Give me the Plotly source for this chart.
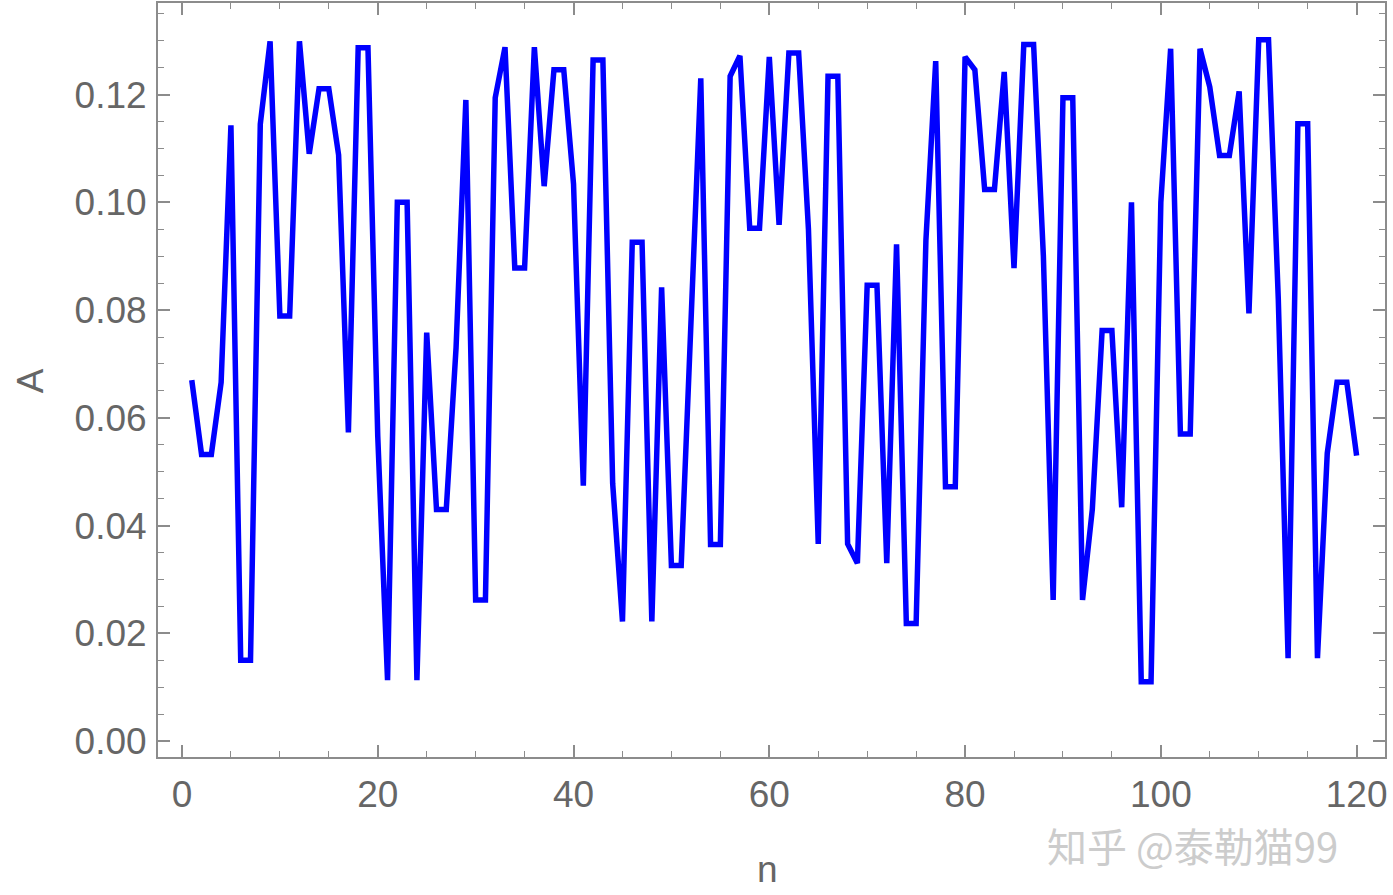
import plotly.graph_objects as go

n_values = list(range(1, 121))
A_values = [
    0.0670, 0.0532, 0.0532, 0.0666, 0.1143, 0.0150, 0.0150, 0.1145, 0.1299, 0.0789,
    0.0789, 0.1299, 0.1090, 0.1211, 0.1211, 0.1088, 0.0573, 0.1287, 0.1287, 0.0566,
    0.0113, 0.1000, 0.1000, 0.0113, 0.0758, 0.0430, 0.0430, 0.0730, 0.1190, 0.0262,
    0.0262, 0.1194, 0.1288, 0.0878, 0.0878, 0.1288, 0.1030, 0.1246, 0.1246, 0.1034,
    0.0474, 0.1264, 0.1264, 0.0478, 0.0222, 0.0926, 0.0926, 0.0222, 0.0842, 0.0326,
    0.0326, 0.0790, 0.1230, 0.0365, 0.0365, 0.1234, 0.1272, 0.0952, 0.0952, 0.1270,
    0.0958, 0.1277, 0.1277, 0.0950, 0.0366, 0.1234, 0.1234, 0.0366, 0.0330, 0.0846,
    0.0846, 0.0330, 0.0922, 0.0218, 0.0218, 0.0930, 0.1262, 0.0472, 0.0472, 0.1270,
    0.1246, 0.1024, 0.1024, 0.1242, 0.0878, 0.1293, 0.1293, 0.0900, 0.0262, 0.1194,
    0.1194, 0.0262, 0.0430, 0.0762, 0.0762, 0.0434, 0.1000, 0.0110, 0.0110, 0.1000,
    0.1285, 0.0570, 0.0570, 0.1285, 0.1214, 0.1087, 0.1087, 0.1206, 0.0794, 0.1302,
    0.1302, 0.0820, 0.0154, 0.1146, 0.1146, 0.0154, 0.0534, 0.0666, 0.0666, 0.0530,
]

x_tick_vals = [0, 20, 40, 60, 80, 100, 120]
y_tick_vals = [0.00, 0.02, 0.04, 0.06, 0.08, 0.10, 0.12]
y_tick_text = ["0.00", "0.02", "0.04", "0.06", "0.08", "0.10", "0.12"]

axis_color = "#8c8c8c"
label_color = "#666666"
font_family = "Liberation Sans, Arial, sans-serif"

fig = go.Figure()
fig.add_trace(go.Scatter(
    x=n_values, y=A_values, mode="lines",
    line=dict(color="#0000ff", width=5.5),
    showlegend=False, hoverinfo="x+y",
))

common_axis = dict(
    showline=True, linecolor=axis_color, linewidth=2, mirror="ticks",
    ticks="inside", ticklen=12, tickwidth=1.5, tickcolor=axis_color,
    showgrid=False, zeroline=False,
    tickfont=dict(family=font_family, size=37, color=label_color),
)

fig.update_xaxes(
    range=[-2.45, 122.9], tickvals=x_tick_vals, ticklabelstandoff=4,
    minor=dict(dtick=5, tick0=0, ticks="inside", ticklen=6, tickcolor=axis_color, tickwidth=1.2, showgrid=False),
    **common_axis,
)
fig.update_yaxes(
    range=[-0.00296, 0.1370], tickvals=y_tick_vals, ticktext=y_tick_text, ticklabelstandoff=2,
    minor=dict(dtick=0.005, tick0=0, ticks="inside", ticklen=6, tickcolor=axis_color, tickwidth=1.2, showgrid=False),
    **common_axis,
)

fig.add_annotation(text="n", xref="paper", yref="paper", x=0.497, y=-0.149,
                   showarrow=False, font=dict(family=font_family, size=37, color=label_color),
                   xanchor="center", yanchor="middle")
fig.add_annotation(text="A", xref="paper", yref="paper", x=-0.104, y=0.499, textangle=-90,
                   showarrow=False, font=dict(family=font_family, size=37, color=label_color),
                   xanchor="center", yanchor="middle")
fig.add_annotation(text="知乎 @泰勒猫99", xref="paper", yref="paper", x=0.843, y=-0.117,
                   showarrow=False, font=dict(family="Noto Sans CJK SC, sans-serif", size=40, color="#cccccc"),
                   xanchor="center", yanchor="middle")

fig.update_layout(
    width=1393, height=895,
    margin=dict(l=158, r=8, t=1, b=138, pad=0),
    paper_bgcolor="white", plot_bgcolor="white",
)

fig.write_html("out.html", config={"displayModeBar": False},
               post_script="document.body.style.margin='0';document.body.style.overflow='hidden';")
